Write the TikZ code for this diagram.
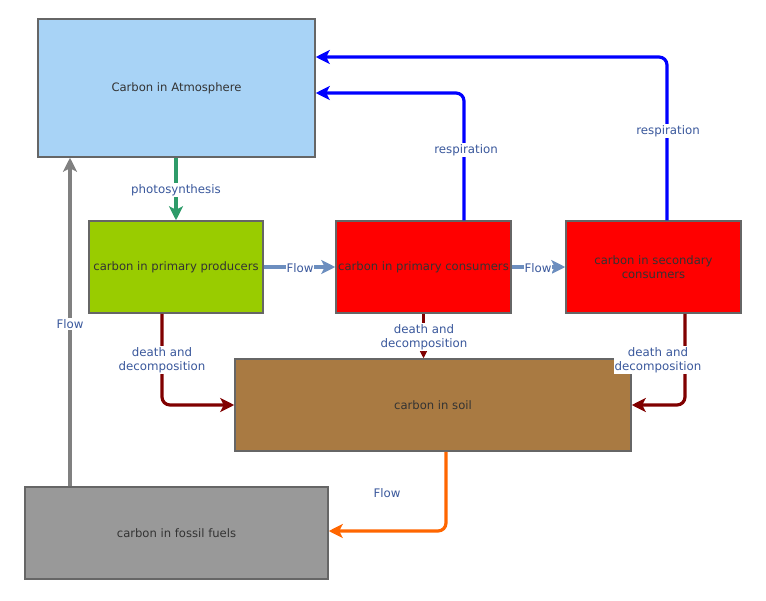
\documentclass[tikz,border=0pt]{standalone}
\usepackage{fontspec}
\setmainfont{DejaVu Sans}
\usetikzlibrary{arrows.meta}
\definecolor{atmfill}{RGB}{168,211,246}
\definecolor{prodfill}{RGB}{153,204,0}
\definecolor{soilfill}{RGB}{169,122,66}
\definecolor{fossilfill}{RGB}{153,153,153}
\definecolor{boxline}{RGB}{102,102,102}
\definecolor{boxtext}{RGB}{51,51,51}
\definecolor{lbltext}{RGB}{58,88,156}
\definecolor{photo}{RGB}{46,155,105}
\definecolor{flowblue}{RGB}{108,142,191}
\definecolor{resp}{RGB}{0,0,255}
\definecolor{death}{RGB}{128,0,0}
\definecolor{orangeflow}{RGB}{255,102,0}
\definecolor{grayflow}{RGB}{128,128,128}
\begin{document}
\begin{tikzpicture}[x=1pt,y=-1pt,
  box/.style={draw=boxline,line width=1.5pt,inner sep=2pt,align=center,text=boxtext,font=\fontsize{11.6}{14}\selectfont},
  lbl/.style={fill=white,inner sep=1pt,align=center,text=lbltext,font=\fontsize{11.8}{14}\selectfont},
  conn/.style={line width=3.2pt,rounded corners=8pt,-{Stealth[length=14pt,width=14pt,inset=3.5pt]}},
]
\useasboundingbox (0,0) rectangle (766,600);
% boxes
\node[box,fill=atmfill,minimum width=277pt,minimum height=138pt] (atm) at (176.5,88) {Carbon in Atmosphere};
\node[box,fill=prodfill,minimum width=174pt,minimum height=92pt] (prod) at (176,267) {carbon in primary producers};
\node[box,fill=red,minimum width=175pt,minimum height=92pt] (pc) at (423.5,267) {carbon in primary consumers};
\node[box,fill=red,minimum width=175pt,minimum height=92pt] (sc) at (653.5,267) {carbon in secondary\\consumers};
\node[box,fill=soilfill,minimum width=396pt,minimum height=92pt] (soil) at (433,405) {carbon in soil};
\node[box,fill=fossilfill,minimum width=303pt,minimum height=92pt] (fossil) at (176.5,533) {carbon in fossil fuels};
% helper coordinates
\coordinate (xr1) at (464,0);
\coordinate (yr1) at (0,93);
\coordinate (xr2) at (667,0);
\coordinate (yr2) at (0,57);
\coordinate (xd1) at (162,0);
\coordinate (xd3) at (685,0);
\coordinate (xs) at (446,0);
\coordinate (yf) at (0,531);
\coordinate (xg) at (70,0);
% connectors
\draw[conn,photo] (atm.south -| prod.north) -- (prod.north);
\draw[conn,flowblue] (prod.east) -- (pc.west);
\draw[conn,flowblue] (pc.east) -- (sc.west);
\draw[conn,resp] (pc.north -| xr1) -- (xr1 |- yr1) -- (atm.east |- yr1);
\draw[conn,resp] (sc.north -| xr2) -- (xr2 |- yr2) -- (atm.east |- yr2);
\draw[conn,death] (prod.south -| xd1) -- (xd1 |- soil.west) -- (soil.west);
\draw[line width=3.2pt,death,-{Stealth[length=8pt,width=8pt,inset=2pt]}] (pc.south) -- (pc.south |- soil.north);
\draw[conn,death] (sc.south -| xd3) -- (xd3 |- soil.east) -- (soil.east);
\draw[conn,orangeflow] (soil.south -| xs) -- (xs |- yf) -- (fossil.east |- yf);
\draw[conn,grayflow] (fossil.north -| xg) -- (atm.south -| xg);
% labels
\node[lbl] (lphoto) at (176,190) {photosynthesis};
\node[lbl] (lf1) at (300,268) {Flow};
\node[lbl] (lf2) at (538,268) {Flow};
\node[lbl] (lr1) at (466,150) {respiration};
\node[lbl] (lr2) at (668,131) {respiration};
\node[lbl] (ld1) at (162,360) {death and\\decomposition};
\node[lbl] (ld2) at (424,337) {death and\\decomposition};
\node[lbl] (ld3) at (658,360) {death and\\decomposition};
\node[lbl] (lf3) at (387,493) {Flow};
\node[lbl] (lf4) at (70,324) {Flow};
\end{tikzpicture}
\end{document}
